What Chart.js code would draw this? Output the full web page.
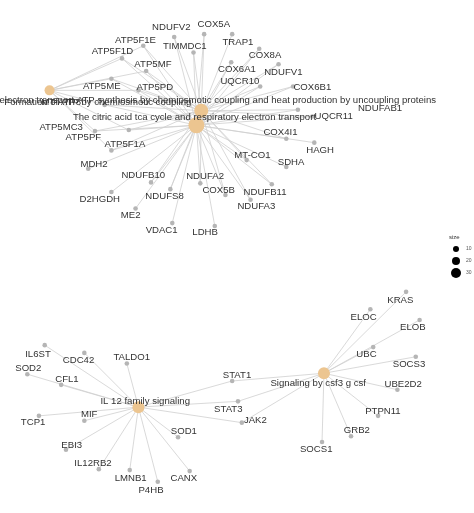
<!DOCTYPE html>
<html><head><meta charset="utf-8">
<script src="https://cdn.jsdelivr.net/npm/chart.js@4"></script>
<style>html,body{margin:0;padding:0;background:#fff}#w{width:474px;height:513px}</style>
</head><body><div id="w"><canvas id="c"></canvas></div>
<script>
// hub nodes
const hubNames = ["Formation of ATP by chemiosmotic coupling",
 "Respiratory electron transport ATP synthesis by chemiosmotic coupling and heat production by uncoupling proteins",
 "The citric acid tca cycle and respiratory electron transport",
 "IL 12 family signaling","Signaling by csf3 g csf"];
const hubX = [43,200,195,135,327];
const hubY = [85,106,121,412,377];
const hubR = [5,7,8,6,6];
const hubLabelX = [93,443,193,142,321];
const hubLabelY = [97,95,113,406,387];
const hubAlign = ["center","right","center","center","center"];

const geneNames = ["NDUFV2","COX5A","ATP5F1E","TIMMDC1","ATP5F1D","ATP5MF","ATP5ME","ATP5PD","MT-ATP8","ATP5MC3","ATP5PF","ATP5F1A","MDH2","NDUFB10","NDUFA2","D2HGDH","NDUFS8","COX5B","ME2","VDAC1","LDHB",
 "TRAP1","COX8A","COX6A1","NDUFV1","UQCR10","COX6B1","NDUFAB1","UQCR11","COX4I1","HAGH","MT-CO1","SDHA","NDUFB11","NDUFA3",
 "KRAS","ELOC","ELOB","UBC","SOCS3","UBE2D2","PTPN11","GRB2","SOCS1","STAT1","STAT3","JAK2",
 "IL6ST","CDC42","TALDO1","SOD2","CFL1","TCP1","MIF","EBI3","SOD1","IL12RB2","LMNB1","CANX","P4HB"];
const geneX = [172,203,140,192,118,143,107,135,100,125,90,107,83,148,199,107,168,225,132,170,214,
 232,260,231,280,261,295,300,315,288,317,247,288,273,251,
 412,375,426,378,422,403,383,355,325,232,238,242,
 38,79,123,20,55,32,79,60,176,94,126,188,155];
const geneY = [30,27,39,46,52,65,73,85,100,126,127,147,166,180,181,190,187,193,207,222,225,
 27,42,56,58,81,81,105,112,135,139,157,164,182,198,
 293,311,322,350,360,394,421,442,448,385,406,428,
 348,356,367,378,389,421,426,456,443,476,477,478,489];
const labelX = [169,213,132,183,108,150,97,152,55,55,78,121,89,140,204,95,162,218,127,159,204,
 238,266,237,285,240,315,385,337,282,323,253,293,266,257,
 406,368,419,371,415,409,388,361,319,237,228,256,
 31,73,128,21,61,26,84,66,182,88,127,182,148];
const labelY = [20,17,33,40,45,58,81,82,97,123,134,141,161,173,174,198,194,188,214,230,232,
 35,49,63,66,76,82,104,112,128,147,152,159,190,205,
 302,319,330,358,368,388,416,436,456,379,414,426,
 357,364,361,372,383,428,419,451,437,470,485,486,498];
const geneHubs = [[1,2],[1,2],[0,1,2],[1,2],[0,1,2],[0,1,2],[0,1,2],[0,1,2],[0,1,2],[0,1,2],[0,1,2],[0,1,2],[2],[1,2],[1,2],[2],[1,2],[1,2],[2],[2],[2],
 [2],[1,2],[1,2],[1,2],[1,2],[1,2],[1,2],[1,2],[1,2],[2],[1,2],[2],[1,2],[1,2],
 [4],[4],[4],[4],[4],[4],[4],[4],[4],[3,4],[3,4],[3,4],
 [3],[3],[3],[3],[3],[3],[3],[3],[3],[3],[3],[3],[3]];
const legendSizes = [10,20,30];

const edges = [];
geneNames.forEach((g,i)=>geneHubs[i].forEach(h=>{
  edges.push({x:hubX[h],y:hubY[h]},{x:geneX[i],y:geneY[i]},{x:geneX[i],y:null});
}));

const labelPlugin = {id:'labels',afterDatasetsDraw(chart){
  const ctx=chart.ctx,xs=chart.scales.x,ys=chart.scales.y;
  ctx.save();ctx.fillStyle='#333';ctx.font='9.6px "Liberation Sans", Arial, sans-serif';ctx.textBaseline='middle';ctx.textAlign='center';
  geneNames.forEach((g,i)=>ctx.fillText(g,xs.getPixelForValue(labelX[i]),ys.getPixelForValue(labelY[i])));
  hubNames.forEach((h,i)=>{ctx.textAlign=hubAlign[i];ctx.fillText(h,xs.getPixelForValue(hubLabelX[i]),ys.getPixelForValue(hubLabelY[i]));});
  ctx.textAlign='left';ctx.font='6px "Liberation Sans", Arial';ctx.fillText('size',449,237);
  legendSizes.forEach((s,i)=>{ctx.fillStyle='#000';ctx.beginPath();ctx.arc(456,249+i*12,3+i,0,Math.PI*2);ctx.fill();
    ctx.fillStyle='#555';ctx.font='5px "Liberation Sans", Arial';ctx.fillText(String(s),466,249+i*12);});
  ctx.restore();
}};

new Chart(document.getElementById('c'),{
 type:'scatter',
 data:{datasets:[
  {data:edges,showLine:true,spanGaps:false,borderColor:'#cfcfcf',borderWidth:0.8,pointRadius:0,order:3},
  {data:geneX.map((x,i)=>({x,y:geneY[i]})),pointRadius:2.3,backgroundColor:'#b5b5b5',borderWidth:0,order:2},
  {data:hubX.map((x,i)=>({x,y:hubY[i]})),pointRadius:hubR,backgroundColor:'#ecc590',borderWidth:0,order:1}
 ]},
 options:{responsive:true,maintainAspectRatio:false,animation:false,layout:{padding:0},
  plugins:{legend:{display:false},tooltip:{enabled:false}},
  scales:{x:{type:'linear',min:0,max:474,display:false},y:{type:'linear',min:0,max:513,reverse:true,display:false}}},
 plugins:[labelPlugin]
});
</script></body></html>
